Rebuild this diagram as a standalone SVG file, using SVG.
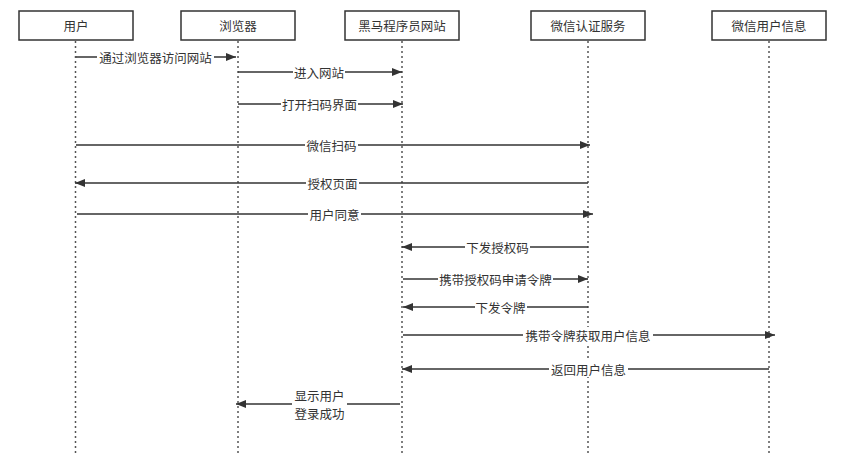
<svg xmlns="http://www.w3.org/2000/svg" width="846" height="468" viewBox="0 0 846 468">
<style>
.box{fill:#fff;stroke:#333;stroke-width:1.5}
.life{stroke:#555;stroke-width:1.5;stroke-dasharray:2 3;fill:none}
.msg{stroke:#333;stroke-width:1.6;fill:none;marker-end:url(#ah)}
.t{font-family:"Noto Sans CJK SC","Microsoft YaHei",sans-serif;font-size:12.5px;fill:#333;text-anchor:middle;dominant-baseline:central}
.bg{fill:#fff}
</style>
<defs>
<marker id="ah" markerUnits="userSpaceOnUse" markerWidth="11" markerHeight="9" refX="10" refY="4" orient="auto">
<path d="M0,0 L10,4 L0,8 z" fill="#333"/>
</marker>
</defs>
<rect width="846" height="468" fill="#fff"/>
<g id="lifelines">
<line class="life" x1="75.5" y1="41" x2="75.5" y2="456"/>
<line class="life" x1="238" y1="41" x2="238" y2="456"/>
<line class="life" x1="402" y1="41" x2="402" y2="456"/>
<line class="life" x1="588" y1="41" x2="588" y2="456"/>
<line class="life" x1="769" y1="41" x2="769" y2="456"/>
</g>
<g id="node-user"><rect class="box" x="19" y="11" width="114" height="29"/><text class="t" x="76" y="25.5">用户</text></g>
<g id="node-browser"><rect class="box" x="181" y="11" width="114" height="29"/><text class="t" x="238" y="25.5">浏览器</text></g>
<g id="node-site"><rect class="box" x="345" y="11" width="114" height="29"/><text class="t" x="402" y="25.5">黑马程序员网站</text></g>
<g id="node-auth"><rect class="box" x="531" y="11" width="114" height="29"/><text class="t" x="588" y="25.5">微信认证服务</text></g>
<g id="node-info"><rect class="box" x="712" y="11" width="114" height="29"/><text class="t" x="769" y="25.5">微信用户信息</text></g>
<g id="connectors">
<line class="msg" x1="76" y1="57" x2="236" y2="57"/>
<rect class="bg" x="97" y="49" width="117" height="16"/><text class="t" x="155.5" y="57">通过浏览器访问网站</text>
<line class="msg" x1="238" y1="72" x2="402" y2="72"/>
<rect class="bg" x="293" y="64" width="52" height="16"/><text class="t" x="319" y="72">进入网站</text>
<line class="msg" x1="238" y1="104" x2="403" y2="104"/>
<rect class="bg" x="281" y="96" width="77" height="16"/><text class="t" x="319.5" y="104">打开扫码界面</text>
<line class="msg" x1="76" y1="145" x2="590" y2="145"/>
<rect class="bg" x="305" y="137" width="53" height="16"/><text class="t" x="331.5" y="145">微信扫码</text>
<line class="msg" x1="588" y1="183" x2="75" y2="183"/>
<rect class="bg" x="306" y="175" width="53" height="16"/><text class="t" x="332.5" y="183">授权页面</text>
<line class="msg" x1="77" y1="214" x2="593" y2="214"/>
<rect class="bg" x="308" y="206" width="53" height="16"/><text class="t" x="334.5" y="214">用户同意</text>
<line class="msg" x1="588" y1="247" x2="402" y2="247"/>
<rect class="bg" x="465" y="239" width="65" height="16"/><text class="t" x="497.5" y="247">下发授权码</text>
<line class="msg" x1="403" y1="279" x2="588" y2="279"/>
<rect class="bg" x="438" y="271" width="115" height="16"/><text class="t" x="495.5" y="279">携带授权码申请令牌</text>
<line class="msg" x1="588" y1="307" x2="403" y2="307"/>
<rect class="bg" x="475" y="299" width="52" height="16"/><text class="t" x="500.5" y="307">下发令牌</text>
<line class="msg" x1="403" y1="335" x2="775" y2="335"/>
<rect class="bg" x="523" y="327" width="130" height="16"/><text class="t" x="588" y="335">携带令牌获取用户信息</text>
<line class="msg" x1="769" y1="369" x2="402" y2="369"/>
<rect class="bg" x="549" y="361" width="79" height="16"/><text class="t" x="588.5" y="369">返回用户信息</text>
<line class="msg" x1="400" y1="404" x2="236" y2="404"/>
<rect class="bg" x="292" y="386" width="55" height="36"/><text class="t" x="319.5" y="395.5">显示用户</text><text class="t" x="319.5" y="413">登录成功</text>
</g>
</svg>
